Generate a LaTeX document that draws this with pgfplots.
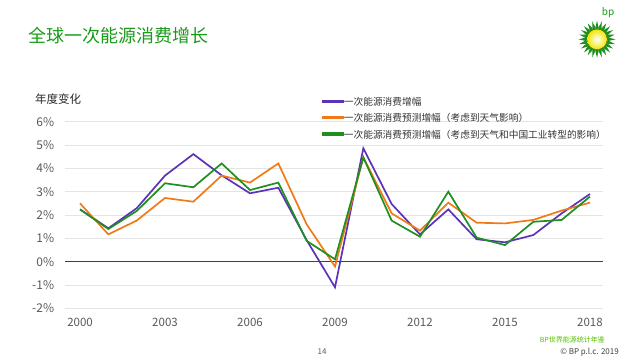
\documentclass[border=0pt]{standalone}
\usepackage{fontspec}
\setmainfont{Noto Sans CJK SC}
\usepackage{pgfplots}
\pgfplotsset{compat=1.18}
\usepackage{pgfplotstable}
\definecolor{bpgreen}{HTML}{1A9A1A}
\definecolor{cpurple}{HTML}{5B33B8}
\definecolor{corange}{HTML}{EF7A17}
\definecolor{cgreen}{HTML}{1F8F1F}
\definecolor{tickgray}{HTML}{595959}
\definecolor{gridgray}{HTML}{E4E4E4}
\definecolor{logoy}{HTML}{F2E600}
\pgfplotstableread{
year actual weather china
2000 2.24 2.50 2.24
2001 1.43 1.17 1.40
2002 2.29 1.76 2.17
2003 3.69 2.73 3.36
2004 4.61 2.57 3.19
2005 3.70 3.69 4.21
2006 2.93 3.39 3.07
2007 3.17 4.21 3.39
2008 0.92 1.60 0.89
2009 -1.10 -0.21 0.10
2010 4.86 4.47 4.47
2011 2.47 2.07 1.76
2012 1.17 1.33 1.07
2013 2.24 2.53 3.00
2014 0.96 1.67 1.03
2015 0.83 1.64 0.71
2016 1.14 1.79 1.71
2017 2.07 2.19 1.79
2018 2.90 2.53 2.79
}\datatable
\begin{document}
\begin{tikzpicture}[x=1bp,y=1bp]
\path[use as bounding box] (0,0) rectangle (640,360);
% title
\node[anchor=west, inner sep=0pt, font=\fontsize{18bp}{20bp}\selectfont, text=bpgreen] at (28,324) {全球一次能源消费增长};
% logo
\foreach \i in {0,...,23} {
  \fill[cgreen, shift={(597,320.7)}, rotate=\i*15] (0:18.5) -- (7.5:12) -- (0,0) -- (-7.5:12) -- cycle;
}
\fill[inner color=white, outer color=logoy] (597,320.7) circle (10);
\node[anchor=center, inner sep=0pt, font=\fontsize{10bp}{11bp}\selectfont, text=bpgreen] at (608,347) {bp};
% y label
\node[anchor=west, inner sep=0pt, font=\fontsize{11.5bp}{13bp}\selectfont, text=black!85] at (35,261) {年度变化};
% footer
\node[anchor=center, inner sep=0pt, font=\fontsize{8bp}{9bp}\selectfont, text=tickgray] at (322,8.5) {14};
\node[anchor=east, inner sep=0pt, font=\fontsize{7bp}{8bp}\selectfont, text=green!55!yellow!75!black] at (605,20) {BP世界能源统计年鉴};
\node[anchor=east, inner sep=0pt, font=\fontsize{8bp}{9bp}\selectfont, text=black!75] at (619,7.5) {© BP p.l.c. 2019};
\begin{axis}[
  at={(65bp,51.7bp)}, anchor=south west,
  scale only axis, width=538bp, height=186.6bp,
  xmin=1999.47, xmax=2018.46, ymin=-2, ymax=6,
  axis line style={draw=none},
  tick style={draw=none},
  xtick={2000,2003,2006,2009,2012,2015,2018},
  xticklabels={2000,2003,2006,2009,2012,2015,2018},
  ytick={-2,-1,0,1,2,3,4,5,6},
  yticklabels={-2\%,-1\%,0\%,1\%,2\%,3\%,4\%,5\%,6\%},
  ymajorgrids, grid style={gridgray, line width=0.8pt},
  extra y ticks={0}, extra y tick labels={},
  extra y tick style={grid style={black!75, line width=0.9pt}},
  xticklabel style={anchor=center, inner sep=0pt, yshift=-14.4bp, font=\fontsize{11.5bp}{13bp}\selectfont, text=tickgray},
  yticklabel style={anchor=east, inner sep=0pt, xshift=-10.7bp, font=\fontsize{12bp}{13bp}\selectfont, text=tickgray},
  clip=false,
  legend style={at={(axis description cs:0.4777,1.132)}, anchor=north west, draw=none, fill=none, inner sep=0pt,
    font=\fontsize{9.7bp}{11bp}\selectfont, text=black!80, row sep=8bp,
    nodes={inner sep=0pt, text depth=0pt}},
  legend cell align=left,
  legend image code/.code={\fill[#1] (0bp,-1bp) rectangle (20bp,1bp);},
]
\addplot[cpurple, line width=1.7pt] table[x=year, y=actual] {\datatable};
\addlegendentry{一次能源消费增幅}
\addplot[corange, line width=1.7pt] table[x=year, y=weather] {\datatable};
\addlegendentry{一次能源消费预测增幅（考虑到天气影响）}
\addplot[cgreen, line width=1.7pt] table[x=year, y=china] {\datatable};
\addlegendentry{一次能源消费预测增幅（考虑到天气和中国工业转型的影响）}
\end{axis}
\end{tikzpicture}
\end{document}
